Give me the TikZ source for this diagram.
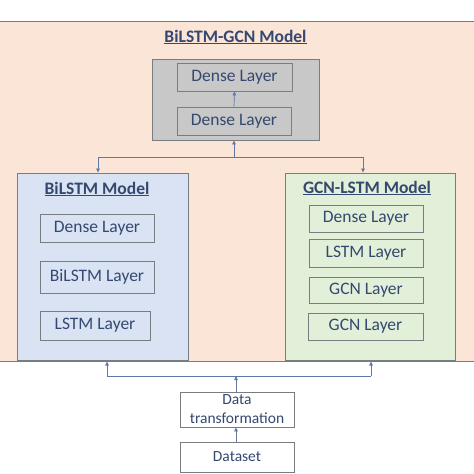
\documentclass[tikz,border=0pt]{standalone}
\usepackage{fontspec}
\setmainfont{Carlito}
\usetikzlibrary{arrows.meta}
\definecolor{peach}{RGB}{251,229,214}
\definecolor{lblue}{RGB}{218,227,243}
\definecolor{lgreen}{RGB}{226,240,217}
\definecolor{gbox}{RGB}{200,200,200}
\definecolor{txt}{RGB}{52,72,112}
\definecolor{edge}{RGB}{120,125,130}
\definecolor{arr}{RGB}{95,120,165}
\tikzset{
  layer/.style={draw=edge, line width=0.8pt, inner sep=0pt, text=txt, font=\fontsize{17.5}{19}\selectfont},
  container/.style={draw=edge, line width=0.9pt, inner sep=0pt},
  ttl/.style={text=txt, font=\fontsize{17.5}{19}\selectfont\bfseries, inner sep=1pt},
  conn/.style={draw=arr, line width=0.7pt},
  arrow/.style={conn, -{Triangle[length=4pt,width=3.5pt]}}
}
\begin{document}
\begin{tikzpicture}[x=1pt,y=-1pt]
\useasboundingbox (0,0) rectangle (474,474);
\fill[white] (0,0) rectangle (474,474);
\fill[peach] (0,21) rectangle (474,361);
\draw[edge, line width=0.8pt] (0,21) -- (474,21);
\draw[edge, line width=0.8pt] (0,361) -- (474,361);
\node[ttl] (t0) at (235.5,37) {\underline{BiLSTM-GCN Model}};
% top gray box
\node[container, fill=gbox, minimum width=167pt, minimum height=81pt] (g) at (235.5,99.5) {};
\node[layer, minimum width=115pt, minimum height=28pt] (d1) at (234.5,77) {Dense Layer};
\node[layer, minimum width=114pt, minimum height=28pt] (d2) at (234,121) {Dense Layer};
\draw[arrow] (d2.north) -- (d1.south);
% BiLSTM model
\node[container, fill=lblue, minimum width=171pt, minimum height=187pt] (b) at (102.5,266.5) {};
\node[ttl] (tb) at (97,189) {\underline{BiLSTM Model}};
\node[layer, minimum width=114pt, minimum height=28pt] (b1) at (97,228) {Dense Layer};
\node[layer, minimum width=114pt, minimum height=32pt] (b2) at (97,277) {BiLSTM Layer};
\node[layer, minimum width=110pt, minimum height=29pt] (b3) at (95,325.5) {LSTM Layer};
% GCN-LSTM model
\node[container, fill=lgreen, minimum width=170pt, minimum height=187pt] (c) at (370,266.5) {};
\node[ttl] (tc) at (367,188) {\underline{GCN-LSTM Model}};
\node[layer, minimum width=114pt, minimum height=27pt] (c1) at (366,218.5) {Dense Layer};
\node[layer, minimum width=114pt, minimum height=28pt] (c2) at (366,253) {LSTM Layer};
\node[layer, minimum width=114pt, minimum height=26pt] (c3) at (366,290) {GCN Layer};
\node[layer, minimum width=115pt, minimum height=27pt] (c4) at (365.5,326.5) {GCN Layer};
% upper connectors
\coordinate (j0) at (234,157);
\coordinate (jl) at (98,157);
\coordinate (jr) at (363,157);
\draw[conn] (jl) -- (jr);
\draw[arrow] (j0) -- (g.south -| j0);
\draw[arrow] (jl) -- (b.north -| jl);
\draw[arrow] (jr) -- (c.north -| jr);
% bottom
\node[layer, fill=white, align=center, minimum width=114pt, minimum height=35pt, font=\fontsize{15.5}{19}\selectfont] (dt) at (237,409.5) {Data\\transformation};
\node[layer, fill=white, minimum width=114pt, minimum height=30pt, font=\fontsize{15.5}{17}\selectfont] (ds) at (237,457) {Dataset};
\coordinate (kl) at (107,376);
\coordinate (kr) at (371,376);
\coordinate (k0) at (236,376);
\draw[conn] (kl) -- (kr);
\draw[arrow] (kl) -- (107,361.5);
\draw[arrow] (kr) -- (371,361.5);
\draw[arrow] (dt.north -| k0) -- (k0);
\draw[arrow] (ds.north -| k0) -- (dt.south -| k0);
\end{tikzpicture}
\end{document}
